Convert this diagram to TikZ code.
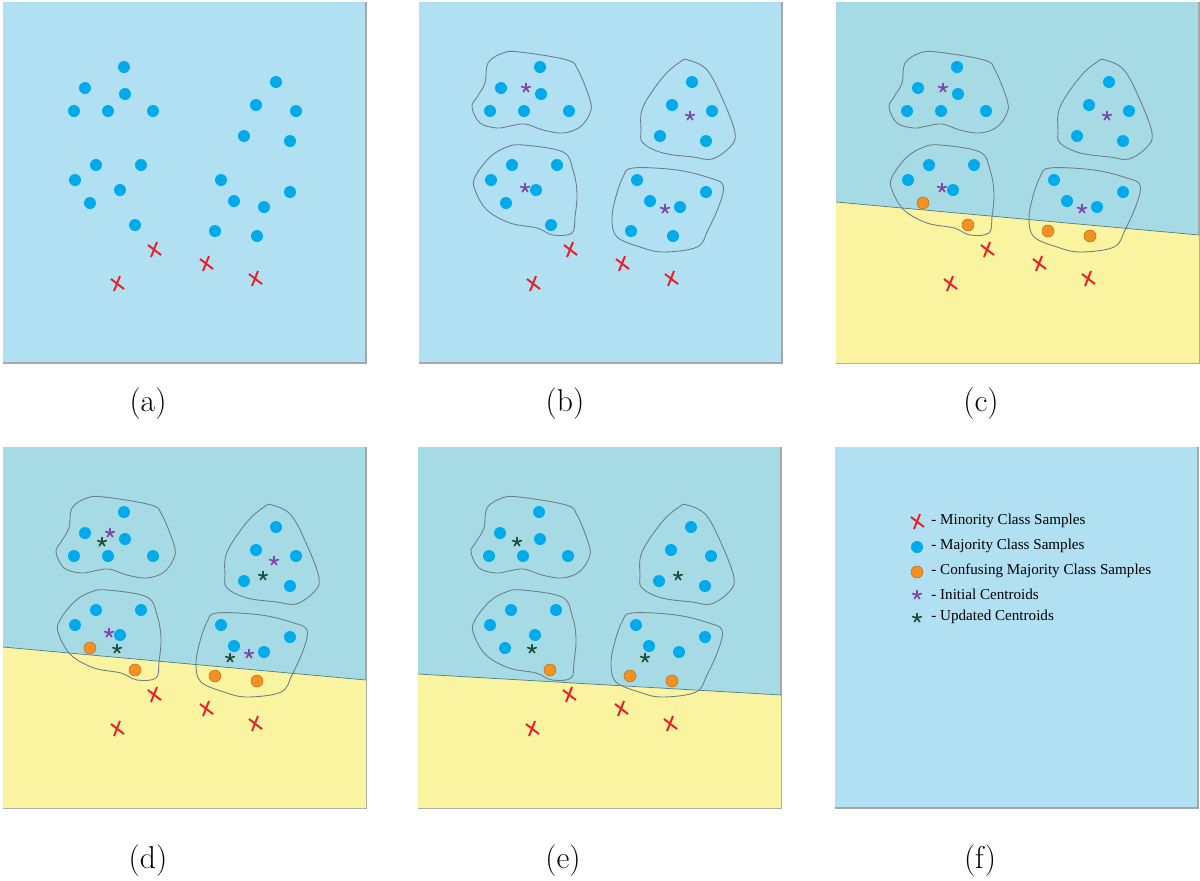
\documentclass[tikz,border=0pt]{standalone}
\usepackage{fontspec}
\newfontfamily\legendfont{Liberation Serif}

\definecolor{skyblue}{RGB}{176,224,242}
\definecolor{tealblue}{RGB}{166,219,230}
\definecolor{sandyellow}{RGB}{250,244,160}
\definecolor{majblue}{RGB}{0,170,235}
\definecolor{confused}{RGB}{245,145,35}
\definecolor{minred}{RGB}{235,30,40}
\definecolor{initpurple}{RGB}{125,70,165}
\definecolor{updgreen}{RGB}{30,80,60}
\definecolor{hull}{RGB}{110,125,135}

\tikzset{
  majdot/.style={fill=majblue},
  confdot/.style={fill=confused, draw=confused!75!black, line width=0.3pt},
  minx/.style={draw=minred, line width=1.1pt},
  hullline/.style={draw=hull, line width=0.5pt},
  sublabel/.style={font=\fontsize{18}{20}\selectfont},
  legtext/.style={font=\legendfont\fontsize{8.6}{10}\selectfont, anchor=west, inner sep=0pt},
}

% panel background, 363 x 361 px
\newcommand{\panelbg}[1]{%
  \fill[#1] (0,0) rectangle (363,361);
  \draw[gray!70, line width=0.6pt] (363,0) -- (363,361) -- (0,361);}
% yellow side of the decision line
\newcommand{\splitline}[2]{%
  \fill[sandyellow] (0,#1) -- (363,#2) -- (363,361) -- (0,361) -- cycle;
  \draw[hull!70!teal, line width=0.4pt] (0,#1) -- (363,#2);}
% majority samples that never change
\newcommand{\majset}{%
  \foreach \p in {(121,65),(82,86),(122,92),(71,109),(105,109),(150,109),
      (273,80),(253,103),(293,109),(241,134),(287,139),
      (93,163),(138,163),(72,178),(117,188),
      (218,178),(231,199),(287,190),(261,205)}
    {\fill[majdot] \p circle (0.12cm);}}
\newcommand{\majdot}[1]{\fill[majdot] #1 circle (0.12cm);}
\newcommand{\confdot}[1]{\filldraw[confdot] #1 circle (0.12cm);}
% minority samples
\newcommand{\minmark}[1]{\draw[minx] #1 +(-6,-4) -- +(7,6) #1 +(3,-7) -- +(-3,8);}
\newcommand{\minset}{%
  \foreach \p in {(151,247),(114,281),(203,261),(252,276)}{\minmark{\p}}}
% centroid asterisk
\newcommand{\cstar}[2]{%
  \foreach \a in {-90,-18,54,126,198}
    {\draw[#1, line width=1pt, line cap=round] #2 -- +(\a:4.5);}}
\newcommand{\initstars}{%
  \cstar{initpurple}{(107,86)} \cstar{initpurple}{(271,114)}
  \cstar{initpurple}{(106,186)} \cstar{initpurple}{(246,207)}}
\newcommand{\updstars}{%
  \cstar{updgreen}{(99,95)} \cstar{updgreen}{(260,129)}
  \cstar{updgreen}{(114,202)} \cstar{updgreen}{(227,211)}}
% cluster outlines
\newcommand{\hulls}{%
  \draw[hullline] plot[smooth cycle, tension=0.6] coordinates {(101,50) (148,58)
    (159,68) (171,98) (171,111) (161,125) (144,131) (124,128) (106,122) (91,124)
    (78,126) (61,121) (53,105) (58,95) (66,81) (69,61) (84,51)};
  \draw[hullline] plot[smooth cycle, tension=0.6] coordinates {(269,58) (288,68)
    (304,98) (316,131) (311,145) (293,157) (274,155) (244,151) (224,141) (222,128)
    (224,105) (244,75) (261,60)};
  \draw[hullline] plot[smooth cycle, tension=0.6] coordinates {(104,143) (144,150)
    (154,168) (158,191) (156,215) (153,231) (134,233) (118,226) (91,221) (68,208)
    (56,188) (56,175) (71,155) (88,145)};
  \draw[hullline] plot[smooth cycle, tension=0.6] coordinates {(214,166) (258,168)
    (291,176) (304,183) (301,201) (289,228) (278,245) (244,250) (221,245) (198,235)
    (193,218) (196,198) (204,175)};}

\begin{document}
\begin{tikzpicture}[x=0.02cm, y=-0.02cm]
  \useasboundingbox (0,0) rectangle (1200,880);

  % (a)
  \begin{scope}[shift={(3,2)}]
    \panelbg{skyblue}
    \majset
    \majdot{(87,201)} \majdot{(132,223)} \majdot{(212,229)} \majdot{(254,234)}
    \minset
  \end{scope}
  \node[sublabel] (laba) at (148,404) {(a)};

  % (b)
  \begin{scope}[shift={(419,2)}]
    \panelbg{skyblue}
    \hulls
    \majset
    \majdot{(87,201)} \majdot{(132,223)} \majdot{(212,229)} \majdot{(254,234)}
    \initstars
    \minset
  \end{scope}
  \node[sublabel] (labb) at (565,404) {(b)};

  % (c)
  \begin{scope}[shift={(836,2)}]
    \panelbg{tealblue}
    \splitline{200}{233}
    \hulls
    \majset
    \confdot{(87,201)} \confdot{(132,223)} \confdot{(212,229)} \confdot{(254,234)}
    \initstars
    \minset
  \end{scope}
  \node[sublabel] (labc) at (981,404) {(c)};

  % (d)
  \begin{scope}[shift={(3,447)}]
    \panelbg{tealblue}
    \splitline{200}{233}
    \hulls
    \majset
    \confdot{(87,201)} \confdot{(132,223)} \confdot{(212,229)} \confdot{(254,234)}
    \initstars
    \updstars
    \minset
  \end{scope}
  \node[sublabel] (labd) at (148,861) {(d)};

  % (e)
  \begin{scope}[shift={(418,447)}]
    \panelbg{tealblue}
    \splitline{227}{248}
    \hulls
    \majset
    \majdot{(87,201)} \confdot{(132,223)} \confdot{(212,229)} \confdot{(254,234)}
    \updstars
    \minset
  \end{scope}
  \node[sublabel] (labe) at (563,861) {(e)};

  % (f) legend
  \begin{scope}[shift={(835,447)}]
    \panelbg{skyblue}
    \minmark{(82,74)}
    \majdot{(82,100)}
    \confdot{(82,125)}
    \cstar{initpurple}{(82,148)}
    \cstar{updgreen}{(82,171)}
    \node[legtext] (legmin) at (96,74) {- Minority Class Samples};
    \node[legtext] (legmaj) at (96,99) {- Majority Class Samples};
    \node[legtext] (legconf) at (96,124) {- Confusing Majority Class Samples};
    \node[legtext] (leginit) at (96,147) {- Initial Centroids};
    \node[legtext] (legupd) at (96,170) {- Updated Centroids};
  \end{scope}
  \node[sublabel] (labf) at (980,861) {(f)};
\end{tikzpicture}
\end{document}
